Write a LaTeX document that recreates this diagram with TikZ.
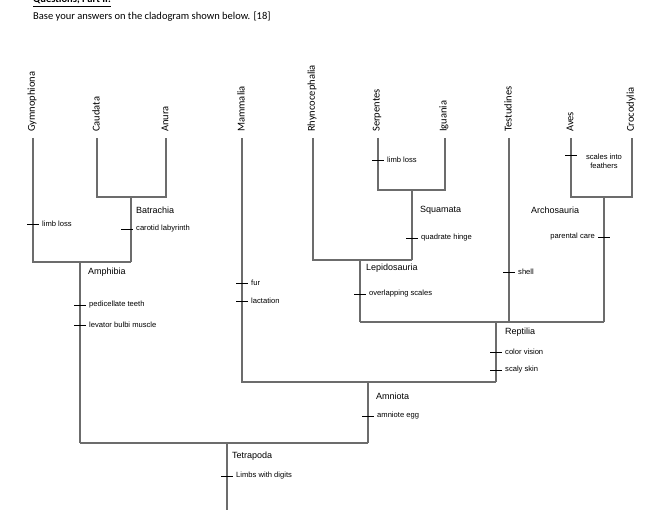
\documentclass[tikz,border=0pt]{standalone}
\usepackage{fontspec}
\setmainfont{Liberation Sans}
\newfontfamily\carfont{Carlito}
\begin{document}
\begin{tikzpicture}[x=1pt,y=-1pt,
  br/.style={draw=gray!85!black,line width=2.8pt},
  tk/.style={draw=black,line width=0.5pt},
  taxon/.style={rotate=90,anchor=west,font=\carfont\fontsize{10.5}{12}\selectfont,inner sep=0},
  clade/.style={anchor=west,font=\fontsize{9}{10}\selectfont,inner sep=0},
  trait/.style={anchor=west,font=\fontsize{7.6}{9}\selectfont,inner sep=0}]
\useasboundingbox (0,0) rectangle (655,518);
\node[anchor=west,font=\carfont\bfseries\fontsize{10.5}{12}\selectfont,inner sep=0] (hd) at (33,1) {\underline{Questions, Part II.}};
\node[anchor=west,font=\carfont\fontsize{10.5}{12}\selectfont,inner sep=0] (q) at (33,17) {Base your answers on the cladogram shown below. [18]};
% taxa tops
\foreach \n/\x/\t in {gy/33/Gymnophiona,ca/97/Caudata,an/166/Anura,ma/242/Mammalia,rh/313/Rhyncocephalia,se/378/Serpentes,ig/445/Iguania,te/509/Testudines,av/571/Aves,cr/632/Crocodylia}{
  \coordinate (\n) at (\x,138);
  \node[taxon] (l\n) at (\x-1,132) {\t};
}
% internal coordinates
\coordinate (bat) at (131,197); \coordinate (batL) at (97,197); \coordinate (batR) at (166,197);
\coordinate (amp) at (80,262); \coordinate (ampL) at (33,262); \coordinate (ampR) at (131,262);
\coordinate (sq) at (412,190); \coordinate (sqL) at (378,190); \coordinate (sqR) at (445,190);
\coordinate (lep) at (360,260); \coordinate (lepL) at (313,260); \coordinate (lepR) at (412,260);
\coordinate (arc) at (604,197); \coordinate (arcL) at (571,197); \coordinate (arcR) at (632,197);
\coordinate (rep) at (496,322); \coordinate (repL) at (360,322); \coordinate (repR) at (604,322);
\coordinate (amn) at (368,382); \coordinate (amnL) at (242,382); \coordinate (amnR) at (496,382);
\coordinate (tet) at (227,443); \coordinate (tetL) at (80,443); \coordinate (tetR) at (368,443);
\coordinate (root) at (227,510);
\coordinate (teB) at (509,322);
% branches
\draw[br] (ca) -- (batL) -- (batR) -- (an);
\draw[br] (bat) -- (ampR);
\draw[br] (gy) -- (ampL) -- (ampR);
\draw[br] (amp) -- (tetL);
\draw[br] (se) -- (sqL) -- (sqR) -- (ig);
\draw[br] (sq) -- (lepR);
\draw[br] (rh) -- (lepL) -- (lepR);
\draw[br] (lep) -- (repL);
\draw[br] (av) -- (arcL) -- (arcR) -- (cr);
\draw[br] (arc) -- (repR);
\draw[br] (te) -- (teB);
\draw[br] (repL) -- (repR);
\draw[br] (rep) -- (amnR);
\draw[br] (ma) -- (amnL) -- (amnR);
\draw[br] (amn) -- (tetR);
\draw[br] (tetL) -- (tetR);
\draw[br] (tet) -- (root);
% clade labels
\node[clade] (cBat) at (136,210) {Batrachia};
\node[clade] (cAmp) at (88,272) {Amphibia};
\node[clade] (cSq) at (420,210) {Squamata};
\node[clade] (cLep) at (366,268) {Lepidosauria};
\node[clade] (cArc) at (531,210) {Archosauria};
\node[clade] (cRep) at (505,332) {Reptilia};
\node[clade] (cAmn) at (376,396) {Amniota};
\node[clade] (cTet) at (232,456) {Tetrapoda};
% traits: ticks
\foreach \x/\y/\t in {33/224/limb loss,127/229/carotid labyrinth,80/305/pedicellate teeth,80/325/levator bulbi muscle,242/283/fur,242/301/lactation,378/160/limb loss,412/238/quadrate hinge,360/294/overlapping scales,509/272/shell,496/352/color vision,496/370/scaly skin,368/416/amniote egg,227/476/Limbs with digits}{
  \draw[tk] (\x-6,\y) -- (\x+6,\y);
  \node[trait] at (\x+9,\y) {\t};
}
\draw[tk] (598,237) -- (610,237);
\node[trait,anchor=east] (pc) at (595,237) {parental care};
\draw[tk] (565,155) -- (577,155);
\node[font=\fontsize{7.6}{9}\selectfont,align=center,inner sep=0] (sf) at (604,161) {scales into\\feathers};
\end{tikzpicture}
\end{document}
